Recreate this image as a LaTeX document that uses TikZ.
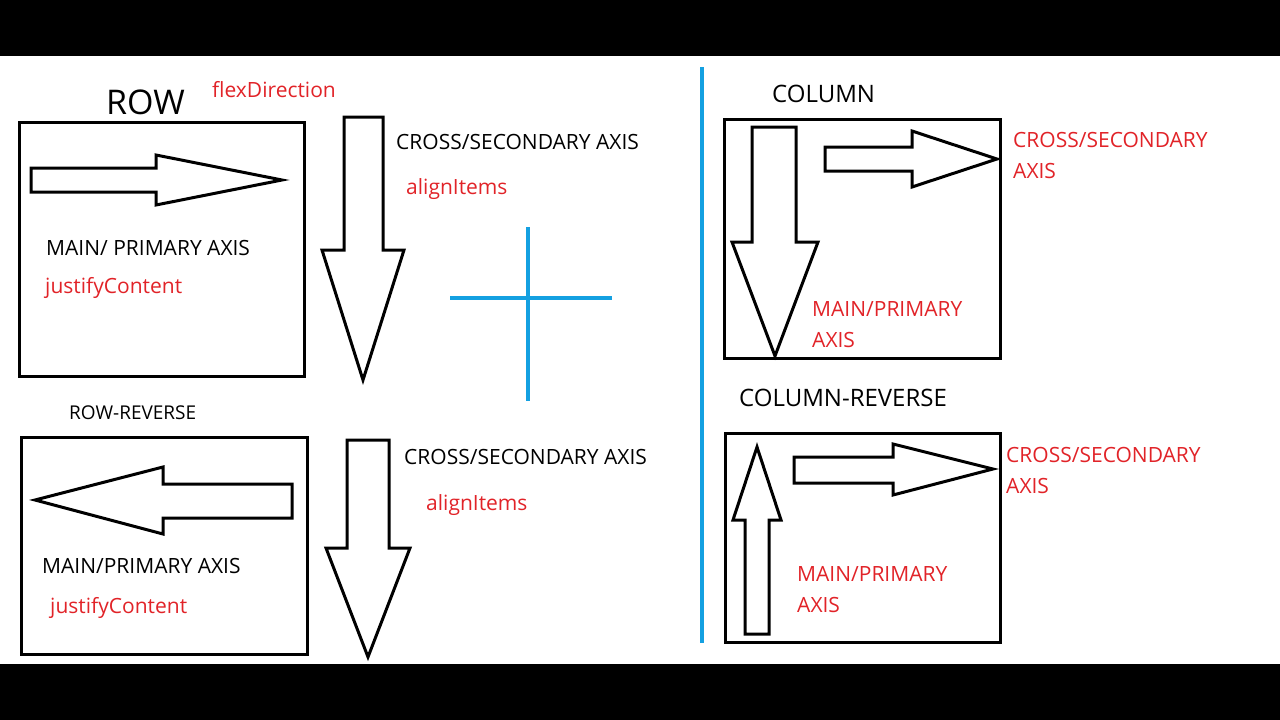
\documentclass[tikz,border=0pt]{standalone}
\usepackage{fontspec}
\setmainfont{Open Sans}
\definecolor{rd}{RGB}{225,35,40}
\definecolor{bl}{RGB}{20,160,225}
\begin{document}
\begin{tikzpicture}[x=1pt,y=-1pt,
 shp/.style={draw=black,line width=3pt,line join=miter},
 bline/.style={draw=bl,line width=3.5pt},
 t/.style={anchor=west,inner sep=0pt,font=\fontsize{21}{21}\selectfont},
 r/.style={t,text=rd}]
\useasboundingbox (0,0) rectangle (1280,720);
\fill[black] (0,0) rectangle (1280,56);
\fill[black] (0,664) rectangle (1280,720);
% boxes
\draw[shp] (19,122) rectangle (304,376);
\draw[shp] (21,437) rectangle (307,654);
\draw[shp] (724,119) rectangle (1000,358);
\draw[shp] (725,433) rectangle (1000,642);
% arrows
\draw[shp] (31,168)--(156,168)--(156,155)--(282,180)--(156,205)--(156,192)--(31,192)--cycle;
\draw[shp] (344,117)--(383,117)--(383,250)--(404,250)--(363,380)--(322,250)--(344,250)--cycle;
\draw[shp] (292,484)--(163,484)--(163,467)--(35,500)--(163,534)--(163,518)--(292,518)--cycle;
\draw[shp] (347,440)--(389,440)--(389,548)--(410,548)--(368,657)--(326,548)--(347,548)--cycle;
\draw[shp] (752,127)--(796,127)--(796,242)--(818,242)--(775,356)--(732,242)--(752,242)--cycle;
\draw[shp] (825,147)--(912,147)--(912,131)--(997,159)--(912,187)--(912,171)--(825,171)--cycle;
\draw[shp] (745,634)--(769,634)--(769,520)--(781,520)--(757,447)--(733,520)--(745,520)--cycle;
\draw[shp] (794,457)--(893,457)--(893,444)--(993,469)--(893,495)--(893,483)--(794,483)--cycle;
% blue lines
\draw[bline] (450,298)--(612,298);
\draw[bline] (528,227)--(528,401);
\draw[bline] (702,67)--(702,643);
% texts
\node[t,font=\fontsize{34}{34}\selectfont] (row) at (106,102) {ROW};
\node[r] (fd) at (212,90) {flexDirection};
\node[t] (c1) at (396,142) {CROSS/SECONDARY AXIS};
\node[r] (a1) at (406,189) {alignItems};
\node[t] (m1) at (46,248) {MAIN/ PRIMARY AXIS};
\node[r] (j1) at (45,288) {justifyContent};
\node[t,font=\fontsize{19}{19}\selectfont] (rr) at (69,413) {ROW-REVERSE};
\node[t] (c2) at (404,457) {CROSS/SECONDARY AXIS};
\node[r] (a2) at (426,505) {alignItems};
\node[t] (m2) at (42,566) {MAIN/PRIMARY AXIS};
\node[r] (j2) at (50,608) {justifyContent};
\node[t,font=\fontsize{24}{24}\selectfont] (col) at (772,94) {COLUMN};
\node[r] (c3a) at (1013,140) {CROSS/SECONDARY};
\node[r] (c3b) at (1013,171) {AXIS};
\node[r] (m3a) at (812,309) {MAIN/PRIMARY};
\node[r] (m3b) at (812,340) {AXIS};
\node[t,font=\fontsize{24}{24}\selectfont] (cr) at (739,398) {COLUMN-REVERSE};
\node[r] (c4a) at (1006,455) {CROSS/SECONDARY};
\node[r] (c4b) at (1006,486) {AXIS};
\node[r] (m4a) at (797,574) {MAIN/PRIMARY};
\node[r] (m4b) at (797,605) {AXIS};
\end{tikzpicture}
\end{document}
